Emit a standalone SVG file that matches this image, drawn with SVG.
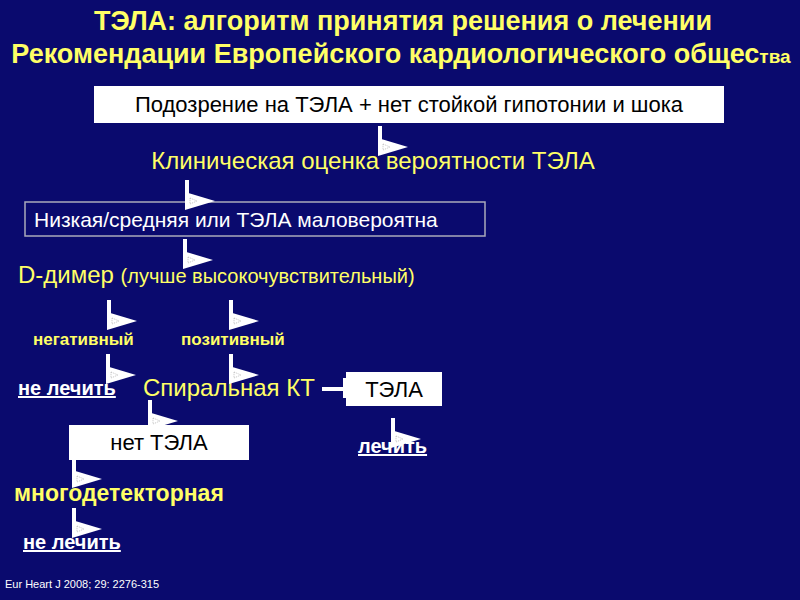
<svg xmlns="http://www.w3.org/2000/svg" width="800" height="600" viewBox="0 0 800 600">
<defs>
<style>
.t{font-family:"Liberation Sans",Arial,sans-serif;}
.title{fill:#ffff66;font-size:27px;font-weight:bold;text-anchor:middle}
.y{fill:#ffff66;font-size:24px}
.yb{fill:#ffff66;font-weight:bold}
.w{fill:#ffffff;font-size:20px;font-weight:bold;text-decoration:underline}
.bx{fill:#ffffff}
.k{fill:#000000;font-size:22px}
</style>
<g id="flag"><rect x="0" y="0" width="4" height="28" fill="#fff"/><polygon points="0,12 30,21 0,30" fill="#fff"/><polygon points="5,18 12,21 5,24" fill="none" stroke="#999" stroke-width="0.6" stroke-dasharray="1,1"/></g>
</defs>
<rect width="800" height="600" fill="#0a0a6e"/>
<text class="t title" x="403" y="30">ТЭЛА: алгоритм принятия решения о лечении</text>
<text class="t title" x="401" y="63">Рекомендации Европейского кардиологического общес<tspan font-size="19">тва</tspan></text>
<g id="n1"><rect x="94" y="86" width="630" height="37" class="bx"/><text class="t k" x="409" y="112" text-anchor="middle" font-size="24">Подозрение на ТЭЛА + нет стойкой гипотонии и шока</text></g>
<g id="n2"><text class="t y" x="373" y="169" text-anchor="middle">Клиническая оценка вероятности ТЭЛА</text></g>
<g id="n3"><rect x="25" y="202" width="460" height="34" fill="none" stroke="#aab" stroke-width="1.5"/><text class="t" fill="#fff" font-size="21" x="34" y="227">Низкая/средняя или ТЭЛА маловероятна</text></g>
<g id="n4"><text class="t y" x="18" y="283">D-димер <tspan font-size="20">(лучше высокочувствительный)</tspan></text></g>
<g id="n5"><text class="t yb" x="33" y="345" font-size="17">негативный</text></g>
<g id="n6"><text class="t yb" x="181" y="345" font-size="17">позитивный</text></g>
<g id="n7"><text class="t w" x="18" y="395">не лечить</text></g>
<g id="n8"><text class="t y" x="143" y="396">Спиральная КТ</text></g>
<g id="n9"><rect x="346" y="372" width="96" height="34" class="bx"/><text class="t k" x="394" y="397" text-anchor="middle">ТЭЛА</text></g>
<g id="n10"><rect x="69" y="425" width="180" height="35" class="bx"/><text class="t k" x="159" y="450" text-anchor="middle">нет ТЭЛА</text></g>
<g id="n11"><text class="t w" x="358" y="453">лечить</text></g>
<g id="n12"><text class="t yb" x="14" y="501" font-size="23">многодетекторная</text></g>
<g id="n13"><text class="t w" x="23" y="549">не лечить</text></g>
<g id="connectors">
<use href="#flag" x="378" y="126"/>
<use href="#flag" x="185" y="180"/>
<use href="#flag" x="183" y="239"/>
<use href="#flag" x="107" y="300"/>
<use href="#flag" x="229" y="300"/>
<use href="#flag" x="106" y="354"/>
<use href="#flag" x="229" y="354"/>
<rect x="322" y="387" width="24" height="4" fill="#fff"/>
<rect x="343" y="378" width="4" height="20" fill="#fff"/>
<use href="#flag" x="148" y="400"/>
<use href="#flag" x="391" y="418"/>
<use href="#flag" x="72" y="458"/>
<use href="#flag" x="72" y="508"/>
</g>
<text class="t" x="5" y="588" fill="#fff" font-size="11">Eur Heart J 2008; 29: 2276-315</text>
</svg>
